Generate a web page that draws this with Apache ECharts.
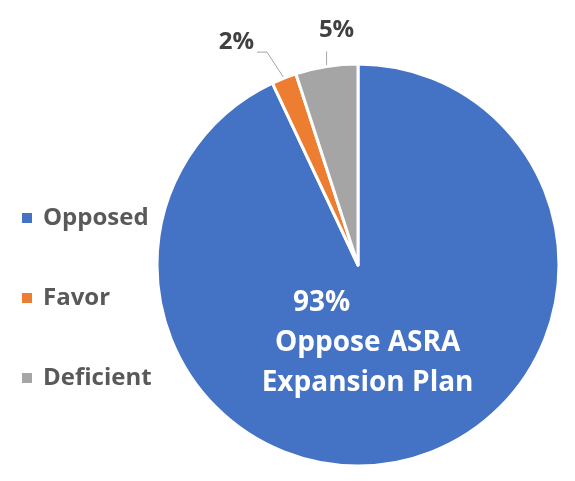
<!DOCTYPE html>
<html><head><meta charset="utf-8">
<script src="https://cdn.jsdelivr.net/npm/echarts@6/dist/echarts.min.js"></script>
<style>html,body{margin:0;padding:0;background:#fff}#c{width:575px;height:481px}</style>
</head><body><div id="c"></div>
<script>
const categories = ['Opposed', 'Favor', 'Deficient'];
const values = [93, 2, 5];
const colors = ['#4472C4', '#ED7D31', '#A5A5A5'];
const insideText = ['Oppose ASRA', 'Expansion Plan'];

const chart = echarts.init(document.getElementById('c'));
const data = categories.map((name, i) => {
  const item = { name: name, value: values[i], itemStyle: { color: colors[i] } };
  if (i === 0) {
    item.label = {
      position: 'inside',
      formatter: p => '{a|' + p.value + '%}\n' + insideText.join('\n'),
      color: '#fff', fontSize: 28, fontWeight: 'bold', lineHeight: 40,
      fontFamily: 'Open Sans',
      rich: { a: { color: '#fff', fontSize: 28, fontWeight: 'bold', lineHeight: 40, fontFamily: 'Open Sans', padding: [0, 92, 0, 0] } }
    };
    item.labelLine = { show: false };
  }
  return item;
});
chart.setOption({
  animation: false,
  legend: {
    orient: 'vertical', left: 20, top: 206, padding: 0,
    itemWidth: 12, itemHeight: 12, itemGap: 56, icon: 'rect',
    textStyle: { fontSize: 24, fontWeight: 'bold', color: '#595959', fontFamily: 'Open Sans', padding: [0, 0, 0, 5] }
  },
  series: [{
    type: 'pie',
    center: [358, 265], radius: 201,
    startAngle: 90, clockwise: true,
    itemStyle: { borderColor: '#fff', borderWidth: 3 },
    label: {
      position: 'outside', formatter: '{c}%',
      fontSize: 24, fontWeight: 'bold', color: '#404040', fontFamily: 'Open Sans'
    },
    labelLine: { show: true, length: 14, length2: 4, lineStyle: { color: '#A5A5A5', width: 1 } },
    labelLayout: function (p) {
      if (p.dataIndex === 0) return { dx: -13, dy: -23 };
      const p0 = p.labelLinePoints[0];
      if (p.dataIndex === 1) {
        return {
          x: p0[0] - 30, y: p0[1] - 36, align: 'right', verticalAlign: 'middle',
          labelLinePoints: [p0, [p0[0] - 17, p0[1] - 26], [p0[0] - 27, p0[1] - 26]]
        };
      }
      return {
        x: p0[0] + 10, y: p0[1] - 36, align: 'center', verticalAlign: 'middle',
        labelLinePoints: [p0, [p0[0], p0[1] - 15], [p0[0], p0[1] - 15]]
      };
    },
    data: data
  }]
});
</script></body></html>
